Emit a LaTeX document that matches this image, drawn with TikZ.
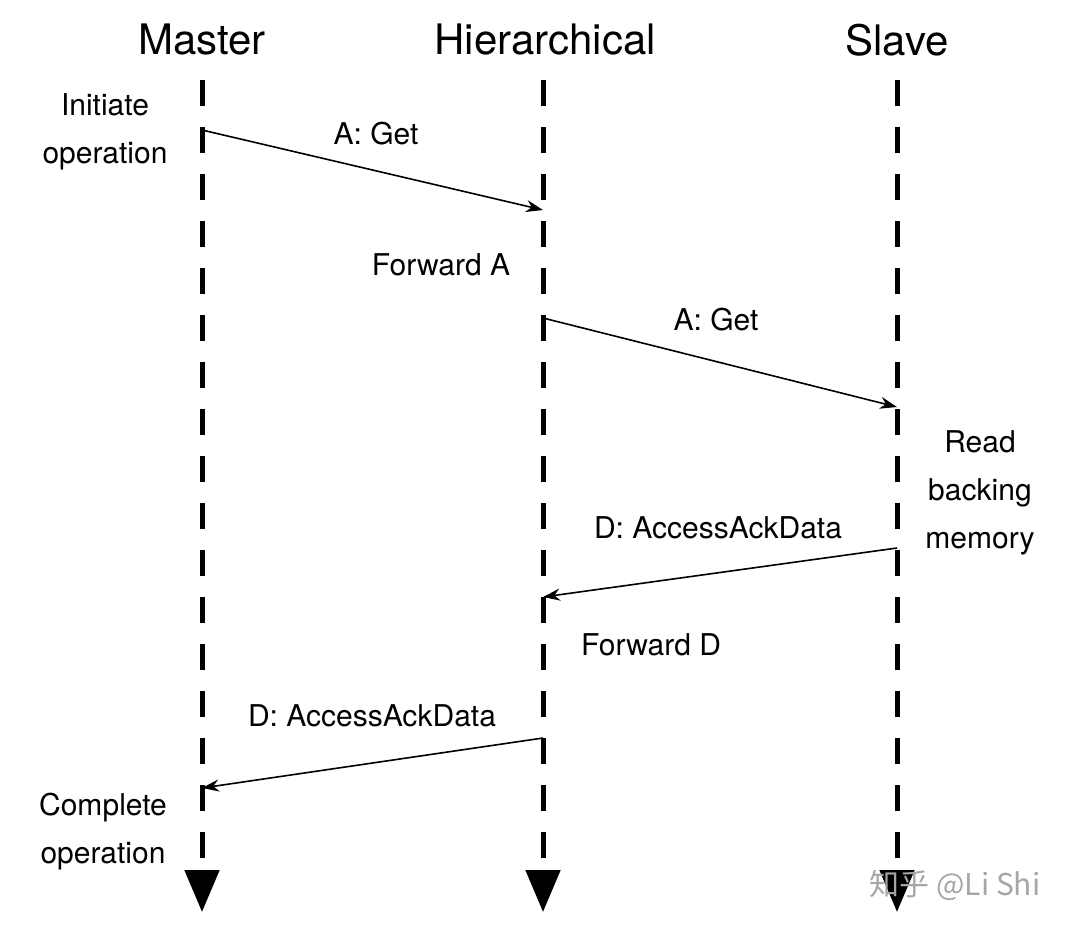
\documentclass[tikz,border=0pt]{standalone}
\usepackage{fontspec}
\setmainfont{TeX Gyre Heros}
\newfontfamily\cjk{Noto Sans CJK SC}
\usetikzlibrary{arrows.meta}
\begin{document}
\begin{tikzpicture}[x=1pt,y=-1pt,
  life/.style={line width=5pt,dash pattern=on 26pt off 21pt,-{Triangle[length=42pt,width=34pt]}},
  msg/.style={line width=1.6pt,-{Stealth[length=17pt,width=12pt]}},
  head/.style={font=\fontsize{42}{48}\selectfont},
  txt/.style={font=\fontsize{30}{48}\selectfont,inner sep=0pt,align=center}]
\useasboundingbox (0,0) rectangle (1078,932);
% lifelines
\node[head] (master) at (202,40) {Master};
\node[head] (hier) at (545,40) {Hierarchical};
\node[head] (slave) at (897,40) {Slave};
\coordinate (m0) at (202,80); \coordinate (m1) at (202,912);
\coordinate (h0) at (543,80); \coordinate (h1) at (543,912);
\coordinate (s0) at (897,80); \coordinate (s1) at (897,912);
\draw[life] (m0) -- (m1);
\draw[life] (h0) -- (h1);
\draw[life] (s0) -- (s1);
% messages
\coordinate (a1) at (202,130); \coordinate (a2) at (543,210);
\coordinate (b1) at (543,318); \coordinate (b2) at (897,407);
\coordinate (c1) at (897,548); \coordinate (c2) at (543,597);
\coordinate (d1) at (543,738); \coordinate (d2) at (202,788);
\draw[msg] (a1) -- (a2);
\draw[msg] (b1) -- (b2);
\draw[msg] (c1) -- (c2);
\draw[msg] (d1) -- (d2);
\node[txt] (getA) at (376,134) {A: Get};
\node[txt] (getB) at (716,320) {A: Get};
\node[txt] (ackS) at (718,528) {D: AccessAckData};
\node[txt] (ackH) at (372,716) {D: AccessAckData};
% notes
\node[txt] (init) at (105,132) {Initiate\\operation};
\node[txt] (fwdA) at (441,265) {Forward A};
\node[txt] (read) at (980,493) {Read\\backing\\memory};
\node[txt] (fwdD) at (651,645) {Forward D};
\node[txt] (done) at (103,832) {Complete\\operation};
\node[txt,text=black!35,font=\fontsize{30}{36}\cjk] (mark) at (955,885) {知乎 @Li Shi};
\end{tikzpicture}
\end{document}
